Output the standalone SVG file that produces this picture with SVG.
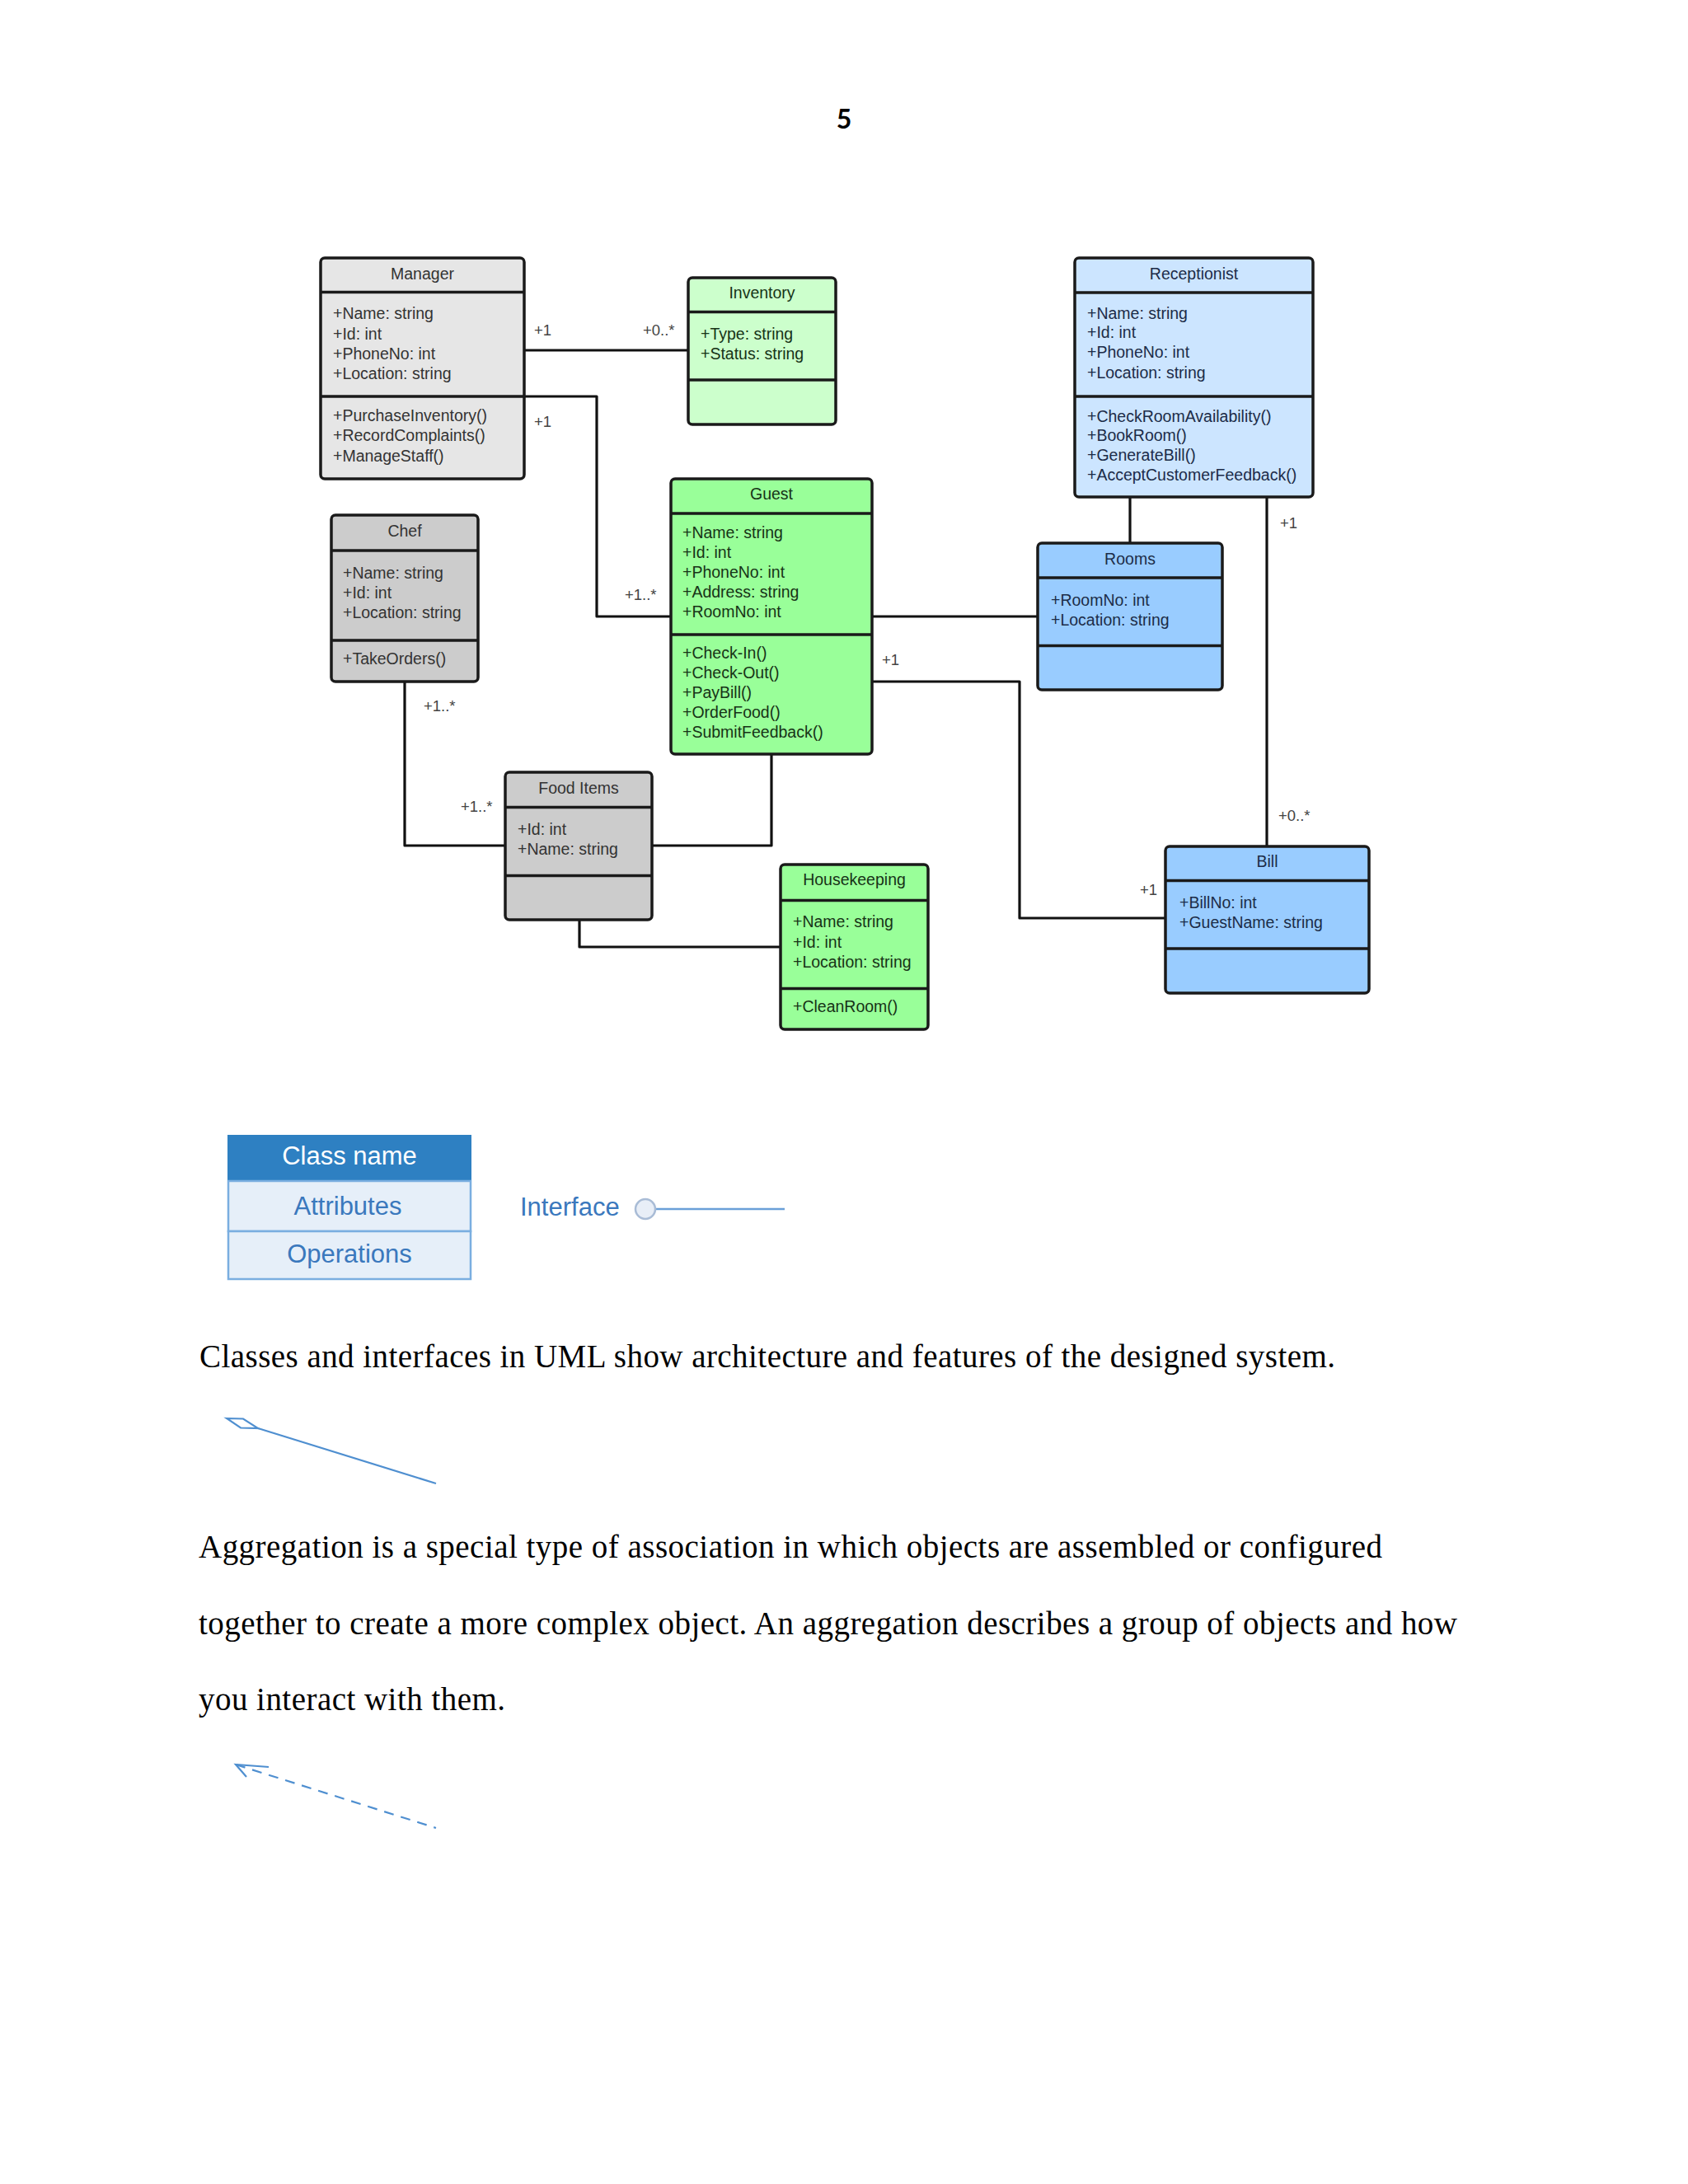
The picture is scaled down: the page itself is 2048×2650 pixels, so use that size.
<svg xmlns="http://www.w3.org/2000/svg" width="2048" height="2650" viewBox="0 0 2048 2650">
<style>
  .box { stroke: #1a1a1a; stroke-width: 3.5; }
  .div { stroke: #1a1a1a; stroke-width: 3.5; }
  .t { font-family: "Liberation Sans", Arial, sans-serif; font-size: 19.5px; }
  .title { text-anchor: middle; }
  .gray { fill: #333333; }
  .green { fill: #173317; }
  .blue { fill: #1c2c48; }
  .conn { fill: none; stroke: #111111; stroke-width: 3.2; stroke-linejoin: round; }
  .mult { font-family: "Liberation Sans", Arial, sans-serif; font-size: 18.5px; fill: #444444; }
  .para { font-family: "Liberation Serif", "Times New Roman", serif; font-size: 39px; fill: #000000; }
  .leg { font-family: "Liberation Sans", Arial, sans-serif; font-size: 31px; text-anchor: middle; }
</style>
<rect x="0" y="0" width="2048" height="2650" fill="#ffffff"/>
<text x="1024" y="156" font-family="Lato, 'Open Sans', sans-serif" font-weight="bold" font-size="32" text-anchor="middle" fill="#000">5</text>

<g id="connectors">
  <path class="conn" d="M636,425 H835"/>
  <path class="conn" d="M636,481 H724 V748 H814"/>
  <path class="conn" d="M491,827 V1026 H613"/>
  <path class="conn" d="M936,915 V1026 H791"/>
  <path class="conn" d="M703,1116 V1149 H947"/>
  <path class="conn" d="M1058,748 H1259"/>
  <path class="conn" d="M1371,603 V659"/>
  <path class="conn" d="M1058,827 H1237 V1114 H1414"/>
  <path class="conn" d="M1537,603 V1027"/>
  <text class="mult" x="648" y="407">+1</text>
  <text class="mult" x="780" y="407">+0..*</text>
  <text class="mult" x="648" y="518">+1</text>
  <text class="mult" x="758" y="728">+1..*</text>
  <text class="mult" x="514" y="863">+1..*</text>
  <text class="mult" x="559" y="985">+1..*</text>
  <text class="mult" x="1070" y="807">+1</text>
  <text class="mult" x="1553" y="641">+1</text>
  <text class="mult" x="1551" y="996">+0..*</text>
  <text class="mult" x="1383" y="1086">+1</text>
</g>

<g id="manager">
  <rect class="box" x="389" y="313" width="247" height="268" rx="5" fill="#e6e6e6"/>
  <line class="div" x1="389" y1="354.5" x2="636" y2="354.5"/>
  <line class="div" x1="389" y1="481" x2="636" y2="481"/>
  <text class="t title gray" x="512.5" y="339">Manager</text>
  <text class="t gray" x="404" y="386.5">+Name: string</text>
  <text class="t gray" x="404" y="411.5">+Id: int</text>
  <text class="t gray" x="404" y="435.5">+PhoneNo: int</text>
  <text class="t gray" x="404" y="460">+Location: string</text>
  <text class="t gray" x="404" y="510.5">+PurchaseInventory()</text>
  <text class="t gray" x="404" y="535">+RecordComplaints()</text>
  <text class="t gray" x="404" y="559.5">+ManageStaff()</text>
</g>

<g id="inventory">
  <rect class="box" x="835" y="337" width="179" height="178" rx="5" fill="#ccffcc"/>
  <line class="div" x1="835" y1="378.5" x2="1014" y2="378.5"/>
  <line class="div" x1="835" y1="461" x2="1014" y2="461"/>
  <text class="t title green" x="924.5" y="362">Inventory</text>
  <text class="t green" x="850" y="411.5">+Type: string</text>
  <text class="t green" x="850" y="435.5">+Status: string</text>
</g>

<g id="receptionist">
  <rect class="box" x="1304" y="313" width="289" height="290" rx="5" fill="#cce5ff"/>
  <line class="div" x1="1304" y1="355" x2="1593" y2="355"/>
  <line class="div" x1="1304" y1="481" x2="1593" y2="481"/>
  <text class="t title blue" x="1448.5" y="339">Receptionist</text>
  <text class="t blue" x="1319" y="386.5">+Name: string</text>
  <text class="t blue" x="1319" y="410">+Id: int</text>
  <text class="t blue" x="1319" y="434">+PhoneNo: int</text>
  <text class="t blue" x="1319" y="458.5">+Location: string</text>
  <text class="t blue" x="1319" y="511.5">+CheckRoomAvailability()</text>
  <text class="t blue" x="1319" y="535">+BookRoom()</text>
  <text class="t blue" x="1319" y="558.5">+GenerateBill()</text>
  <text class="t blue" x="1319" y="582.5">+AcceptCustomerFeedback()</text>
</g>

<g id="chef">
  <rect class="box" x="402" y="625" width="178" height="202" rx="5" fill="#cccccc"/>
  <line class="div" x1="402" y1="668" x2="580" y2="668"/>
  <line class="div" x1="402" y1="777" x2="580" y2="777"/>
  <text class="t title gray" x="491" y="651">Chef</text>
  <text class="t gray" x="416" y="701.5">+Name: string</text>
  <text class="t gray" x="416" y="726">+Id: int</text>
  <text class="t gray" x="416" y="750">+Location: string</text>
  <text class="t gray" x="416" y="806">+TakeOrders()</text>
</g>

<g id="guest">
  <rect class="box" x="814" y="581" width="244" height="334" rx="5" fill="#99ff99"/>
  <line class="div" x1="814" y1="623" x2="1058" y2="623"/>
  <line class="div" x1="814" y1="770" x2="1058" y2="770"/>
  <text class="t title green" x="936" y="606">Guest</text>
  <text class="t green" x="828" y="653">+Name: string</text>
  <text class="t green" x="828" y="677">+Id: int</text>
  <text class="t green" x="828" y="701">+PhoneNo: int</text>
  <text class="t green" x="828" y="725">+Address: string</text>
  <text class="t green" x="828" y="749">+RoomNo: int</text>
  <text class="t green" x="828" y="799">+Check-In()</text>
  <text class="t green" x="828" y="823">+Check-Out()</text>
  <text class="t green" x="828" y="847">+PayBill()</text>
  <text class="t green" x="828" y="871">+OrderFood()</text>
  <text class="t green" x="828" y="894.5">+SubmitFeedback()</text>
</g>

<g id="rooms">
  <rect class="box" x="1259" y="659" width="224" height="178" rx="5" fill="#99ccff"/>
  <line class="div" x1="1259" y1="701" x2="1483" y2="701"/>
  <line class="div" x1="1259" y1="783.5" x2="1483" y2="783.5"/>
  <text class="t title blue" x="1371" y="685">Rooms</text>
  <text class="t blue" x="1275" y="735">+RoomNo: int</text>
  <text class="t blue" x="1275" y="759">+Location: string</text>
</g>

<g id="food-items">
  <rect class="box" x="613" y="937" width="178" height="179" rx="5" fill="#cccccc"/>
  <line class="div" x1="613" y1="979.5" x2="791" y2="979.5"/>
  <line class="div" x1="613" y1="1062.5" x2="791" y2="1062.5"/>
  <text class="t title gray" x="702" y="963">Food Items</text>
  <text class="t gray" x="628" y="1012.5">+Id: int</text>
  <text class="t gray" x="628" y="1036.5">+Name: string</text>
</g>

<g id="housekeeping">
  <rect class="box" x="947" y="1049" width="179" height="200" rx="5" fill="#99ff99"/>
  <line class="div" x1="947" y1="1092.5" x2="1126" y2="1092.5"/>
  <line class="div" x1="947" y1="1199.5" x2="1126" y2="1199.5"/>
  <text class="t title green" x="1036.5" y="1074">Housekeeping</text>
  <text class="t green" x="962" y="1125">+Name: string</text>
  <text class="t green" x="962" y="1150">+Id: int</text>
  <text class="t green" x="962" y="1174">+Location: string</text>
  <text class="t green" x="962" y="1228">+CleanRoom()</text>
</g>

<g id="bill">
  <rect class="box" x="1414" y="1027" width="247" height="178" rx="5" fill="#99ccff"/>
  <line class="div" x1="1414" y1="1068.5" x2="1661" y2="1068.5"/>
  <line class="div" x1="1414" y1="1151" x2="1661" y2="1151"/>
  <text class="t title blue" x="1537.5" y="1052">Bill</text>
  <text class="t blue" x="1431" y="1102">+BillNo: int</text>
  <text class="t blue" x="1431" y="1125.5">+GuestName: string</text>
</g>

<g id="legend-class">
  <rect x="277" y="1378" width="294" height="55" fill="#2e80c2" stroke="#2e80c2" stroke-width="2"/>
  <rect x="277" y="1433" width="294" height="61" fill="#e6eff9" stroke="#7aaee0" stroke-width="2.5"/>
  <rect x="277" y="1494" width="294" height="58" fill="#e6eff9" stroke="#7aaee0" stroke-width="2.5"/>
  <text class="leg" x="424" y="1413" fill="#ffffff">Class name</text>
  <text class="leg" x="422" y="1474" fill="#3a78bd">Attributes</text>
  <text class="leg" x="424" y="1532" fill="#3a78bd">Operations</text>
</g>

<g id="legend-interface">
  <text x="631" y="1475" font-family="'Liberation Sans', Arial, sans-serif" font-size="31" fill="#3a78bd">Interface</text>
  <line x1="795" y1="1467" x2="952" y2="1467" stroke="#6a9fd8" stroke-width="2.5"/>
  <circle cx="783" cy="1467" r="12" fill="#e8eef7" stroke="#a9bcd6" stroke-width="2.5"/>
</g>

<text class="para" x="242" y="1659" textLength="1378" lengthAdjust="spacing">Classes and interfaces in UML show architecture and features of the designed system.</text>

<g id="aggregation-symbol">
  <line x1="313" y1="1733" x2="529" y2="1800" stroke="#4f8fd0" stroke-width="2.2"/>
  <polygon points="275,1721 295,1721.5 313,1733 292,1732.5" fill="#ffffff" stroke="#4f8fd0" stroke-width="2.2"/>
</g>

<text class="para" x="241" y="1890" textLength="1436" lengthAdjust="spacing">Aggregation is a special type of association in which objects are assembled or configured</text>
<text class="para" x="241" y="1983" textLength="1527" lengthAdjust="spacing">together to create a more complex object. An aggregation describes a group of objects and how</text>
<text class="para" x="241" y="2075" textLength="372" lengthAdjust="spacing">you interact with them.</text>

<g id="dependency-symbol">
  <line x1="286" y1="2141" x2="529" y2="2218" stroke="#4f8fd0" stroke-width="2.2" stroke-dasharray="12,9"/>
  <polyline points="326,2144 286,2141 299,2156" fill="none" stroke="#4f8fd0" stroke-width="2.2"/>
</g>
</svg>
